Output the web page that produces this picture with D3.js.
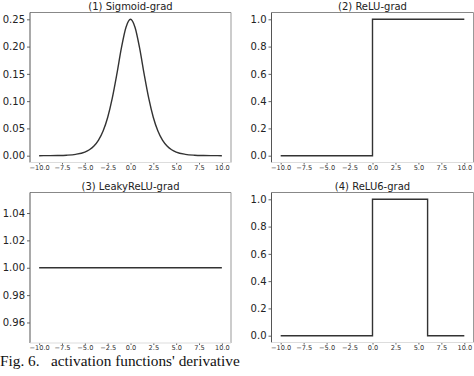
<html>
  <head>
    <meta charset="utf-8" />
    <script src="https://cdnjs.cloudflare.com/ajax/libs/d3/7.6.1/d3.min.js"></script>
    <style>
      body { margin: 0; background: #fff; }
      .title { font-family: "DejaVu Sans", sans-serif; font-size: 10px; fill: #222; }
      .ylab text { font-family: "DejaVu Sans", sans-serif; font-size: 10px; fill: #222; }
      .xlab text { font-family: "DejaVu Sans", sans-serif; font-size: 6.6px; fill: #333; }
      .axis path { display: none; }
      .axis line { stroke: #666; }
      .caption { font-family: "Liberation Serif", "Times New Roman", serif; font-size: 15.3px; fill: #111; white-space: pre; }
    </style>
  </head>
  <body>
    <svg width="474" height="376"></svg>
  </body>

  <script>
    // values
    let xTicks = [-10, -7.5, -5, -2.5, 0, 2.5, 5, 7.5, 10];

    let sigmoidX = [-10, -9, -8, -7, -6, -5, -4.5, -4, -3.5, -3, -2.5, -2, -1.5, -1, -0.5, 0,
                    0.5, 1, 1.5, 2, 2.5, 3, 3.5, 4, 4.5, 5, 6, 7, 8, 9, 10];
    let sigmoidY = [0.0000, 0.0001, 0.0003, 0.0009, 0.0025, 0.0066, 0.0109, 0.0177, 0.0285, 0.0452, 0.0701, 0.105, 0.149, 0.197, 0.235, 0.25,
                    0.235, 0.197, 0.149, 0.105, 0.0701, 0.0452, 0.0285, 0.0177, 0.0109, 0.0066, 0.0025, 0.0009, 0.0003, 0.0001, 0.0000];

    let reluX = [-10, 0, 0, 10];
    let reluY = [0, 0, 1, 1];

    let leakyX = [-10, 10];
    let leakyY = [1, 1];

    let relu6X = [-10, 0, 0, 6, 6, 10];
    let relu6Y = [0, 0, 1, 1, 0, 0];

    let titles = ["(1) Sigmoid-grad", "(2) ReLU-grad", "(3) LeakyReLU-grad", "(4) ReLU6-grad"];
    let sigmoidTicks = [0, 0.05, 0.1, 0.15, 0.2, 0.25];
    let unitTicks = [0, 0.2, 0.4, 0.6, 0.8, 1.0];
    let leakyTicks = [0.96, 0.98, 1.0, 1.02, 1.04];

    let svg = d3.select("svg");

    let panels = [
      { title: titles[0], xs: sigmoidX, ys: sigmoidY, yDom: [-0.0125, 0.2625], yTicks: sigmoidTicks, fmt: ".2f",
        box: { left: 30, right: 231, top: 12.5, bottom: 162.5 }, smooth: true },
      { title: titles[1], xs: reluX, ys: reluY, yDom: [-0.05, 1.05], yTicks: unitTicks, fmt: ".1f",
        box: { left: 271.5, right: 473.5, top: 12.5, bottom: 162.5 } },
      { title: titles[2], xs: leakyX, ys: leakyY, yDom: [0.945, 1.055], yTicks: leakyTicks, fmt: ".2f",
        box: { left: 30, right: 231, top: 192.5, bottom: 343 } },
      { title: titles[3], xs: relu6X, ys: relu6Y, yDom: [-0.05, 1.05], yTicks: unitTicks, fmt: ".1f",
        box: { left: 271.5, right: 473.5, top: 192.5, bottom: 342.5 } }
    ];

    panels.forEach((p) => {
      let b = p.box;
      let x = d3.scaleLinear().domain([-11, 11]).range([b.left, b.right]);
      let y = d3.scaleLinear().domain(p.yDom).range([b.bottom, b.top]);

      let g = svg.append("g");

      g.append("g")
        .attr("class", "axis xlab")
        .attr("transform", `translate(0,${b.bottom})`)
        .call(d3.axisBottom(x).tickValues(xTicks).tickSize(2).tickPadding(0.5)
          .tickFormat((d) => d3.format(".1f")(d).replace("-", "\u2212")));

      g.append("g")
        .attr("class", "axis ylab")
        .attr("transform", `translate(${b.left},0)`)
        .call(d3.axisLeft(y).tickValues(p.yTicks).tickSize(3).tickPadding(2)
          .tickFormat(d3.format(p.fmt)));

      // spines
      g.append("line").attr("x1", b.left).attr("x2", b.right).attr("y1", b.top).attr("y2", b.top)
        .attr("stroke", "#888").attr("stroke-width", 1);
      g.append("line").attr("x1", b.left).attr("x2", b.left).attr("y1", b.top).attr("y2", b.bottom)
        .attr("stroke", "#555").attr("stroke-width", 1);
      g.append("line").attr("x1", b.right).attr("x2", b.right).attr("y1", b.top).attr("y2", b.bottom)
        .attr("stroke", "#999").attr("stroke-width", 1);
      g.append("line").attr("x1", b.left).attr("x2", b.right).attr("y1", b.bottom).attr("y2", b.bottom)
        .attr("stroke", "#ddd").attr("stroke-width", 1);

      let pts = p.xs.map((v, i) => [v, p.ys[i]]);
      let line = d3.line()
        .x((d) => x(d[0]))
        .y((d) => y(d[1]))
        .curve(p.smooth ? d3.curveMonotoneX : d3.curveLinear);

      g.append("path")
        .datum(pts)
        .attr("fill", "none")
        .attr("stroke", "#333")
        .attr("stroke-width", 1.4)
        .attr("d", line);

      g.append("text")
        .attr("class", "title")
        .attr("x", (b.left + b.right) / 2)
        .attr("y", b.top - 3)
        .attr("text-anchor", "middle")
        .text(p.title);
    });

    svg.append("text")
      .attr("class", "caption")
      .attr("x", 0)
      .attr("y", 365.5)
      .text("Fig. 6.   activation functions' derivative");
  </script>
</html>
